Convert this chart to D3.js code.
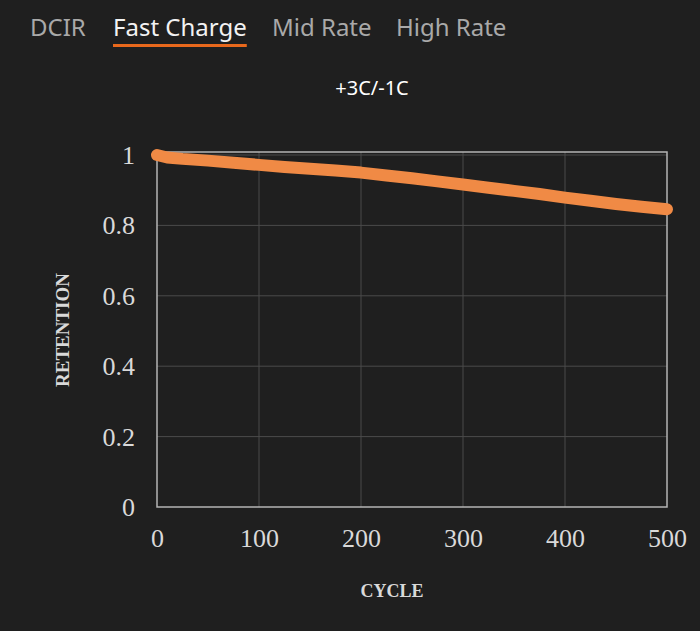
<!DOCTYPE html>
<html>
<head>
<meta charset="utf-8">
<script src="https://cdn.jsdelivr.net/npm/d3@7"></script>
<style>
  html, body { margin: 0; padding: 0; background: #1f1f1f; }
  svg { display: block; }
</style>
</head>
<body>
<div id="chart"></div>
<script>
const tabs = ["DCIR", "Fast Charge", "Mid Rate", "High Rate"];
const activeTab = "Fast Charge";
const chartTitle = "+3C/-1C";

const cycles = [0, 10, 25, 50, 75, 100, 125, 150, 175, 200, 225, 250, 275, 300, 325, 350, 375, 400, 425, 450, 475, 500];
const retention = [1.0, 0.993, 0.989, 0.984, 0.978, 0.972, 0.966, 0.961, 0.956, 0.950, 0.942, 0.934, 0.925, 0.916, 0.907, 0.898, 0.889, 0.879, 0.870, 0.861, 0.853, 0.846];

const xTicks = [0, 100, 200, 300, 400, 500];
const yTicks = [0, 0.2, 0.4, 0.6, 0.8, 1];

const width = 700, height = 631;
const margin = {left: 157, right: 33, top: 155, bottom: 124};

const svg = d3.select("#chart").append("svg")
    .attr("width", width)
    .attr("height", height);

svg.append("rect").attr("width", width).attr("height", height).attr("fill", "#1f1f1f");

// tab strip
const tabX = [30, 113, 272, 396];
const tabG = svg.append("g")
    .attr("font-family", "'Noto Sans', 'Open Sans', sans-serif")
    .attr("font-size", 24);
tabG.selectAll("text")
  .data(tabs)
  .join("text")
    .attr("x", (d, i) => tabX[i])
    .attr("y", 36)
    .attr("fill", d => d === activeTab ? "#f2f2f2" : "#a9a9a9")
    .text(d => d);
const ai = tabs.indexOf(activeTab);
const activeNode = tabG.selectAll("text").nodes()[ai];
const bb = activeNode.getBBox();
svg.append("rect")
    .attr("x", bb.x)
    .attr("y", 44)
    .attr("width", bb.width)
    .attr("height", 3)
    .attr("fill", "#e8681c");

svg.append("text")
    .attr("x", 372)
    .attr("y", 95)
    .attr("text-anchor", "middle")
    .attr("font-family", "'Noto Sans', 'Open Sans', sans-serif")
    .attr("font-size", 20)
    .attr("fill", "#ffffff")
    .text(chartTitle);

// scales
const x = d3.scaleLinear().domain([0, 500]).range([margin.left, width - margin.right]);
const y = d3.scaleLinear().domain([0, 1]).range([height - margin.bottom, margin.top]);

// grid
const grid = svg.append("g").attr("stroke", "#4a4a4a").attr("stroke-width", 1);
grid.selectAll("line.v")
  .data(xTicks.slice(1, -1))
  .join("line")
    .attr("x1", d => x(d)).attr("x2", d => x(d))
    .attr("y1", y(0)).attr("y2", y(1) - 3);
grid.selectAll("line.h")
  .data(yTicks.slice(1))
  .join("line")
    .attr("x1", x(0)).attr("x2", x(500))
    .attr("y1", d => y(d)).attr("y2", d => y(d));

// frame
svg.append("rect")
    .attr("x", x(0))
    .attr("y", y(1) - 3)
    .attr("width", x(500) - x(0))
    .attr("height", y(0) - y(1) + 3)
    .attr("fill", "none")
    .attr("stroke", "#b5b5b5")
    .attr("stroke-width", 1.5);

// axes
const xAxis = svg.append("g")
    .attr("transform", `translate(0,${y(0)})`)
    .call(d3.axisBottom(x).tickValues(xTicks).tickSize(0).tickPadding(22).tickFormat(d3.format("d")));
const yAxis = svg.append("g")
    .attr("transform", `translate(${x(0)},0)`)
    .call(d3.axisLeft(y).tickValues(yTicks).tickSize(0).tickPadding(22).tickFormat(d => d === 0 || d === 1 ? d : d3.format(".1f")(d)));
[xAxis, yAxis].forEach(a => {
  a.select(".domain").remove();
  a.selectAll("text")
    .attr("font-family", "'Liberation Serif', 'DejaVu Serif', serif")
    .attr("font-size", 26)
    .attr("fill", "#d9d9d9");
});
yAxis.selectAll("text").attr("dy", "0.33em");

svg.append("text")
    .attr("x", 392)
    .attr("y", 597)
    .attr("text-anchor", "middle")
    .attr("font-family", "'Liberation Serif', 'DejaVu Serif', serif")
    .attr("font-weight", "bold")
    .attr("font-size", 18)
    .attr("fill", "#d9d9d9")
    .text("CYCLE");

svg.append("text")
    .attr("transform", `translate(69,330) rotate(-90)`)
    .attr("text-anchor", "middle")
    .attr("font-family", "'Liberation Serif', 'DejaVu Serif', serif")
    .attr("font-weight", "bold")
    .attr("font-size", 19)
    .attr("fill", "#d9d9d9")
    .text("RETENTION");

// series
const line = d3.line()
    .x((d, i) => x(cycles[i]))
    .y(d => y(d));
svg.append("path")
    .datum(retention)
    .attr("d", line)
    .attr("fill", "none")
    .attr("stroke", "#f08a45")
    .attr("stroke-width", 12)
    .attr("stroke-linecap", "round")
    .attr("stroke-linejoin", "round");
</script>
</body>
</html>
